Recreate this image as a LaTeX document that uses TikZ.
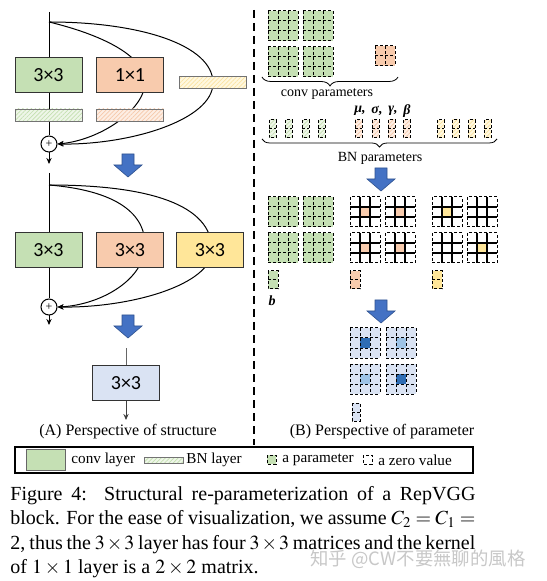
\documentclass[tikz,border=0pt]{standalone}
\usepackage{mathptmx}
\usepackage{fontspec}
\setmainfont{Liberation Serif}
\newfontfamily\carl{Carlito}
\newfontfamily\cjkfont{Noto Sans CJK TC}
\usetikzlibrary{patterns.meta,decorations.pathreplacing,arrows.meta}
\definecolor{cgreen}{HTML}{C5E0B4}
\definecolor{corange}{HTML}{F8CBAD}
\definecolor{cyellow}{HTML}{FFE699}
\definecolor{cblue}{HTML}{DAE3F3}
\definecolor{bngreen}{HTML}{EEF6E8}
\definecolor{hgreen}{HTML}{C4E0B0}
\definecolor{bnorange}{HTML}{FDEEE4}
\definecolor{horange}{HTML}{F6C9AA}
\definecolor{bnyellow}{HTML}{FFF8E0}
\definecolor{hyellow}{HTML}{FBE3A0}
\definecolor{arrowblue}{HTML}{4472C4}
\definecolor{arrowedge}{HTML}{2F528F}
\definecolor{dblue}{HTML}{2E6DB4}
\definecolor{mblue}{HTML}{9DC3E6}
\definecolor{wmark}{HTML}{C8C8C8}
\tikzset{
  wire/.style={line width=0.5pt, draw=black},
  tip/.style={-{Stealth[length=3pt,width=2.6pt]}},
  layerbox/.style={draw=black!80, line width=0.5pt, minimum width=33.5pt, minimum height=17.5pt, inner sep=0pt, font=\carl\fontsize{10}{12}\selectfont},
  hatch/.style={pattern={Lines[angle=45,distance=1.5pt,line width=0.35pt]}, pattern color=#1},
  bnbar/.style 2 args={draw=black!55, line width=0.4pt, minimum width=33.5pt, minimum height=6pt, inner sep=0pt, preaction={fill=#1}, hatch=#2},
  plusnode/.style={circle, draw=black, line width=0.5pt, fill=white, minimum size=8pt, inner sep=0pt, font=\fontsize{6}{6}\selectfont},
  dline/.style={line width=0.5pt, dash pattern=on 1.5pt off 1pt},
  lbl/.style={font=\fontsize{7}{8}\selectfont, inner sep=0pt},
  sublbl/.style={font=\fontsize{8}{9}\selectfont, inner sep=0pt},
  leg/.style={font=\fontsize{7.6}{9}\selectfont, inner sep=0pt, anchor=west},
  greek/.style={font=\fontsize{7}{8}\selectfont\bfseries\itshape, inner sep=0pt},
  fatarrow/.style={fill=arrowblue, draw=arrowedge, line width=0.3pt}
}
\newcommand\pgrid[5]{%
  \fill[#5] (#1,#2) rectangle ++(#3*10,#4*10);
  \foreach \i in {0,...,#3} \draw[dline] (#1+\i*10,#2) -- ++(0,#4*10);
  \foreach \j in {0,...,#4} \draw[dline] (#1,#2+\j*10) -- ++(#3*10,0);
}
\newcommand\bgrid[3]{%
  \fill[cblue] (#1,#2) rectangle ++(30,30);
  \fill[#3] (#1+10,#2+10) rectangle ++(10,10);
  \foreach \i in {0,...,3} \draw[dline] (#1+\i*10,#2) -- ++(0,30);
  \foreach \j in {0,...,3} \draw[dline] (#1,#2+\j*10) -- ++(30,0);
}
\newcommand\zgrid[3]{%
  \fill[#3] (#1+10.5,#2+10.5) rectangle ++(9,9);
  \draw[line width=0.6pt] (#1+10,#2) -- ++(0,30) (#1+20,#2) -- ++(0,30)
     (#1,#2+10) -- ++(30,0) (#1,#2+20) -- ++(30,0);
  \draw[dline] (#1,#2) rectangle ++(30,30);
}
\newcommand\smallbn[3]{%
  \path[preaction={fill=#2}, hatch=#3] (#1,120) rectangle ++(7,18);
  \draw[dline] (#1,120) rectangle ++(7,18);
  \draw[dline] (#1,129) -- ++(7,0);
}
\newcommand\biasbar[4]{%
  \fill[#4] (#1,#2) rectangle ++(#3,18);
  \draw[dline] (#1,#2) rectangle ++(#3,18);
  \draw[dline] (#1,#2+9) -- ++(#3,0);
}
\newcommand\fatarr[2]{%
  \filldraw[fatarrow] (#1-6,#2) -- (#1+6,#2) -- (#1+6,#2+11) -- (#1+14,#2+11) -- (#1,#2+23) -- (#1-14,#2+11) -- (#1-6,#2+11) -- cycle;
}
\begin{document}
\begin{tikzpicture}[x=0.5pt,y=-0.5pt]
\useasboundingbox (0,0) rectangle (546,581);
\fill[white] (0,0) rectangle (546,581);

% ---------- left: top block ----------
\coordinate (t0) at (49,12);
\coordinate (b1) at (49,22);
\node[plusnode] (p1) at (49,144) {+};
\draw[wire] (t0) -- (p1.north);
\draw[wire,tip] (b1) .. controls (99,34) and (145,55) .. (145,82) .. controls (145,110) and (100,140) .. (p1.east);
\draw[wire,tip] (b1) .. controls (140,22) and (213,45) .. (213,83) .. controls (213,120) and (130,145) .. (p1.east);
\node[layerbox, fill=cgreen] (c1) at (48.5,75.5) {3×3};
\node[layerbox, fill=corange] (o1) at (130,75.5) {1×1};
\node[bnbar={bngreen}{hgreen}] (bg1) at (48.5,115) {};
\node[bnbar={bnorange}{horange}] (bo1) at (130,115) {};
\node[bnbar={bnyellow}{hyellow}] (by1) at (212.5,82.5) {};
\coordinate (d1) at (49,164);
\draw[wire,tip] (p1.south) -- (d1);

\fatarr{128}{154}

% ---------- left: middle block ----------
\coordinate (t1) at (49,173);
\coordinate (b2) at (49,185);
\node[plusnode] (p2) at (49,307) {+};
\draw[wire] (t1) -- (p2.north);
\draw[wire,tip] (b2) .. controls (110,190) and (145,210) .. (145,245) .. controls (145,280) and (100,305) .. (p2.east);
\draw[wire,tip] (b2) .. controls (150,185) and (212,205) .. (212,250) .. controls (212,285) and (130,308) .. (p2.east);
\node[layerbox, fill=cgreen] (c2) at (48.5,250) {3×3};
\node[layerbox, fill=corange] (o2) at (130,250) {3×3};
\node[layerbox, fill=cyellow] (y2) at (210,250) {3×3};
\coordinate (d2) at (49,325);
\draw[wire,tip] (p2.south) -- (d2);

\fatarr{128}{315}

% ---------- left: final block ----------
\coordinate (t2) at (126,348);
\node[layerbox, fill=cblue] (f) at (126,383) {3×3};
\coordinate (d3) at (126,420);
\draw[line width=0.5pt, draw=black!60] (t2) -- (f.north);
\draw[wire,tip, draw=black!75] (f.south) -- (d3);
\node[sublbl] (capA) at (128,432) {(A) Perspective of structure};

% ---------- divider ----------
\draw[line width=1pt, dash pattern=on 4pt off 2.5pt] (254,10) -- (254,445);

% ---------- right: conv parameters ----------
\pgrid{268}{11}{3}{3}{cgreen}
\pgrid{303}{11}{3}{3}{cgreen}
\pgrid{268}{47}{3}{3}{cgreen}
\pgrid{303}{47}{3}{3}{cgreen}
\pgrid{375}{46}{2}{2}{corange}
\draw[decorate, decoration={brace, mirror, amplitude=4.5pt}, line width=0.4pt] (262,77) -- (398,77);
\node[lbl] (convl) at (327,94) {conv parameters};

% ---------- right: BN parameters ----------
\foreach \x in {269,285,302,318} {\smallbn{\x}{bngreen}{hgreen}}
\foreach \x in {355,372,388,403} {\smallbn{\x}{bnorange}{horange}}
\foreach \x in {437,452,468,484} {\smallbn{\x}{bnyellow}{hyellow}}
\node[greek] (gmu) at (360,111) {μ,};
\node[greek] (gsig) at (377,111) {σ,};
\node[greek] (ggam) at (393,111) {γ,};
\node[greek] (gbet) at (407,111) {β};
\draw[decorate, decoration={brace, mirror, amplitude=4pt}, line width=0.4pt] (262,139) -- (497,139);
\node[lbl] (bnl) at (380,158) {BN parameters};

\fatarr{381}{168}

% ---------- right: converted kernels ----------
\pgrid{268}{197}{3}{3}{cgreen}
\pgrid{303}{197}{3}{3}{cgreen}
\pgrid{268}{233}{3}{3}{cgreen}
\pgrid{303}{233}{3}{3}{cgreen}
\zgrid{350}{197}{corange}
\zgrid{385}{197}{corange}
\zgrid{350}{233}{corange}
\zgrid{385}{233}{corange}
\zgrid{432}{197}{cyellow}
\zgrid{467}{197}{white}
\zgrid{432}{233}{white}
\zgrid{467}{233}{cyellow}
\biasbar{268}{271}{10}{cgreen}
\biasbar{350}{271}{10}{corange}
\biasbar{432}{271}{10}{cyellow}
\node[greek] (bl) at (272,301) {b};

\fatarr{381}{300}

% ---------- right: fused kernel ----------
\bgrid{350}{328}{dblue}
\bgrid{386}{328}{mblue}
\bgrid{350}{364}{mblue}
\bgrid{386}{364}{dblue}
\biasbar{352}{403}{8}{cblue}
\node[sublbl] (capB) at (382,432) {(B) Perspective of parameter};

% ---------- legend ----------
\draw[line width=1pt] (15,447) rectangle (473,473);
\draw[fill=cgreen, draw=black!60, line width=0.4pt] (26,449) rectangle (65,470);
\node[leg] (l1) at (71,460) {conv layer};
\path[preaction={fill=bngreen}, hatch=hgreen, draw=black!55, line width=0.4pt] (144,457) rectangle (183,463);
\node[leg] (l2) at (186,460) {BN layer};
\fill[cgreen] (267,455) rectangle (276,464);
\draw[dline] (267,455) rectangle (276,464);
\node[leg] (l3) at (282,460) {a parameter};
\draw[dline] (363,455) rectangle (372,464);
\node[leg] (l4) at (378,460) {a zero value};

% ---------- caption ----------
\node[anchor=north west, inner sep=0pt, text width=232.5pt, align=justify, font=\fontsize{10}{12.2}\selectfont] (cap) at (10,486) {%
\hyphenpenalty=10000\tolerance=10000
Figure 4:\ \ Structural re-parameterization of a RepVGG\linebreak
block. For the ease of visualization, we assume $C_2=C_1=$\linebreak
2, thus the $3\times 3$ layer has four $3\times 3$ matrices and the kernel\linebreak
of $1\times 1$ layer is a $2\times 2$ matrix.};
\node[font=\cjkfont\fontsize{9.2}{10}\selectfont, text=wmark, inner sep=0pt] (wm) at (418,559) {知乎 @CW不要無聊的風格};
\end{tikzpicture}
\end{document}
